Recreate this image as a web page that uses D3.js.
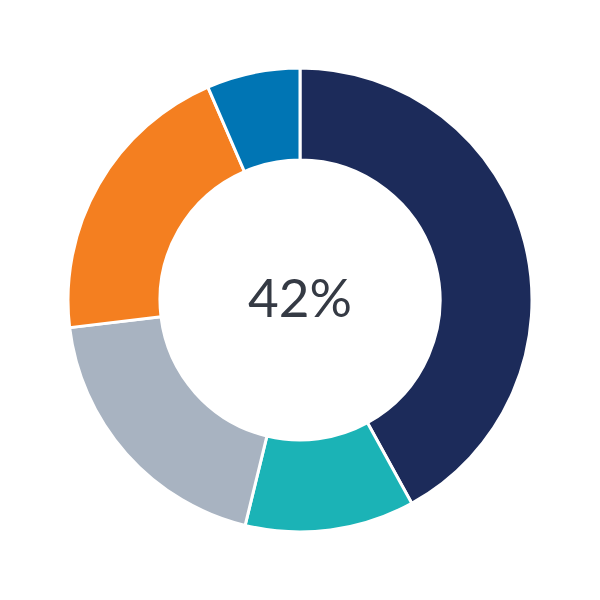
<!DOCTYPE html>
<html>
<head>
<meta charset="utf-8">
<script src="https://cdn.jsdelivr.net/npm/d3@7"></script>
<style>
  body { margin: 0; background: #fff; }
</style>
</head>
<body>
<svg id="donut"></svg>
<script>
var categories = ['A', 'B', 'C', 'D', 'E'];
var values = [42, 11.8, 19.3, 20.4, 6.5];
var colors = ['#1c2b5a', '#1bb3b6', '#a8b3c1', '#f47f20', '#0075b4'];
var centerLabel = '42%';

var width = 600, height = 600;
var outerR = 232, innerR = 140;

var svg = d3.select('#donut')
    .attr('width', width)
    .attr('height', height);

var g = svg.append('g')
    .attr('transform', 'translate(' + width / 2 + ',' + height / 2 + ')');

var color = d3.scaleOrdinal().domain(categories).range(colors);

var pie = d3.pie().sort(null).value(function (d, i) { return values[i]; });
var arc = d3.arc().innerRadius(innerR).outerRadius(outerR);

g.selectAll('path')
    .data(pie(categories))
    .enter()
    .append('path')
    .attr('d', arc)
    .attr('fill', function (d) { return color(d.data); })
    .attr('stroke', '#fff')
    .attr('stroke-width', 3);

g.append('text')
    .attr('text-anchor', 'middle')
    .attr('y', 17)
    .attr('font-family', 'Lato, sans-serif')
    .attr('font-weight', 400)
    .attr('font-size', 53)
    .attr('fill', '#353a44')
    .text(centerLabel);
</script>
</body>
</html>
